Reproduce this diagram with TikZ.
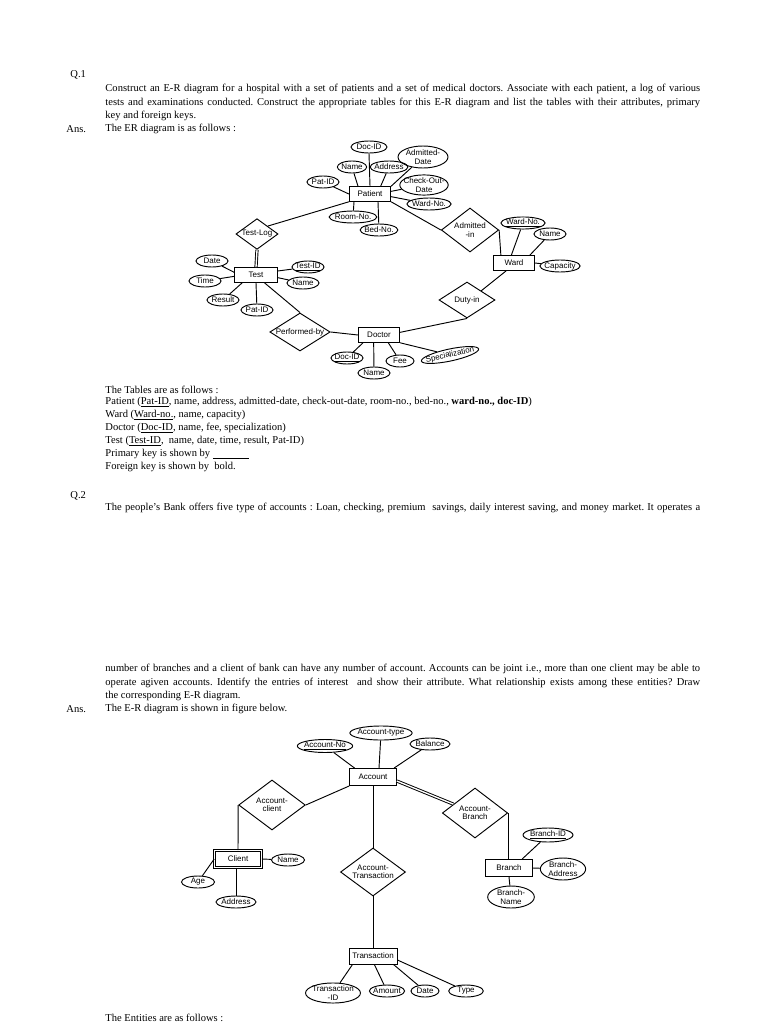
\documentclass[tikz,border=0pt]{standalone}
\usepackage{fontspec}
\setmainfont{Liberation Serif}
\newfontfamily\ersans{Liberation Sans}
\usetikzlibrary{shapes.geometric}

\newcommand{\erfont}{\ersans\fontsize{6}{6.3}\selectfont}
\newcommand{\txtfont}{\fontsize{7.9}{9}\selectfont}
\newcommand{\fullline}[1]{\makebox[446pt][s]{#1}}
\frenchspacing

\begin{document}
\begin{tikzpicture}[x=0.75pt,y=-0.75pt,line width=0.7pt,
	ent/.style={draw,rectangle,font=\erfont,inner sep=0pt,minimum width=31pt,minimum height=11pt},
	attr/.style={draw,ellipse,font=\erfont,inner xsep=-1pt,inner ysep=0pt,minimum width=24pt,minimum height=9pt,align=center},
	rel/.style={draw,diamond,aspect=1.6,font=\erfont,inner sep=0pt,align=center},
	txt/.style={anchor=west,font=\txtfont,inner sep=0pt}]
	
	\useasboundingbox (0,0) rectangle (768,1024);
	
	% question 1
	\node[txt] (q1) at (70,75) {Q.1};
	\node[txt] (q1a) at (105,89) {\fullline{Construct an E-R diagram for a hospital with a set of patients and a set of medical doctors. Associate with each patient, a log of various}};
	\node[txt] (q1b) at (105,103) {\fullline{tests and examinations conducted. Construct the appropriate tables for this E-R diagram and list the tables with their attributes, primary}};
	\node[txt] (q1c) at (105,116) {key and foreign keys.};
	\node[txt] (ans1) at (66,129) {Ans.};
	\node[txt] (ans1a) at (105,129) {The ER diagram is as follows :};
	
	% hospital diagram
	\node[ent] (patient) at (370,194) {Patient};
	\node[attr,minimum width=27pt] (pdoc) at (369,147) {Doc-ID};
	\node[attr,minimum width=22pt] (pname) at (352,167) {Name};
	\node[attr,minimum width=26pt] (paddr) at (389,167) {Address};
	\node[attr,minimum width=37.5pt,minimum height=16.5pt] (padm) at (423,157) {Admitted-\\Date};
	\node[attr] (ppat) at (323,182) {Pat-ID};
	\node[attr,minimum width=33pt,minimum height=15pt,inner xsep=-2.5pt] (pcheck) at (424,185) {Check-Out-\\Date};
	\node[attr,minimum width=29pt] (pward) at (429,204) {Ward-No.};
	\node[attr,minimum width=32pt] (proom) at (353,217) {Room-No.};
	\node[attr,minimum width=27pt] (pbed) at (379,230) {Bed-No.};
	
	\draw (pdoc.south) -- (patient.north);
	\draw ([xshift=-9pt]patient.north) -- (pname);
	\draw ([xshift=8pt]patient.north) -- (paddr);
	\draw (patient.north east) -- (padm);
	\draw (patient.west) -- (ppat);
	\draw ([yshift=2pt]patient.east) -- (pcheck);
	\draw ([yshift=-2pt]patient.east) -- (pward);
	\draw ([xshift=-12pt]patient.south) -- (proom);
	\draw ([xshift=6pt]patient.south) -- (pbed);
	
	\node[rel,minimum width=31.5pt,minimum height=23pt] (testlog) at (257,234) {Test-Log};
	\node[ent,minimum width=32pt] (test) at (256,275) {Test};
	\node[attr] (tdate) at (212,261) {Date};
	\node[attr] (ttime) at (205,281) {Time};
	\node[attr] (tresult) at (223,300) {Result};
	\node[attr] (tpat) at (257,310) {Pat-ID};
	\node[attr] (ttid) at (308,267) {\underline{Test-ID}};
	\node[attr] (tname) at (303,283) {Name};
	
	\draw (patient.south west) -- (testlog.north east);
	\draw[double,double distance=1pt] (testlog.south) -- (test.north);
	\draw ([yshift=2pt]test.west) -- (tdate);
	\draw ([yshift=-1pt]test.west) -- (ttime);
	\draw ([xshift=6pt]test.south west) -- (tresult);
	\draw (test.south) -- (tpat);
	\draw ([yshift=3pt]test.east) -- (ttid);
	\draw ([yshift=-2pt]test.east) -- (tname);
	
	\node[rel,minimum width=45pt,minimum height=28.5pt] (perf) at (300,332) {Performed-by};
	\node[ent] (doctor) at (379,335) {Doctor};
	\node[attr] (ddoc) at (347,358) {\underline{Doc-ID}};
	\node[attr] (dname) at (374,373) {Name};
	\node[attr,minimum width=21pt] (dfee) at (400,361) {Fee};
	\node[attr,minimum width=39pt,inner xsep=-3pt,rotate=12] (dspec) at (450,355) {Specialization};
	
	\draw ([xshift=-10pt]test.south east) -- (perf.north);
	\draw (perf.east) -- (doctor.west);
	\draw ([xshift=-12pt]doctor.south) -- (ddoc);
	\draw ([xshift=-4pt]doctor.south) -- (dname);
	\draw ([xshift=7pt]doctor.south) -- (dfee);
	\draw (doctor.south east) -- (dspec);
	
	\node[rel,minimum width=42pt,minimum height=27pt] (duty) at (467,300) {Duty-in};
	\node[rel,minimum width=43pt,minimum height=33pt] (admin) at (470,230) {Admitted\\-in};
	\node[ent] (ward) at (514,263) {Ward};
	\node[attr,minimum width=29pt] (wno) at (523,223) {\underline{Ward-No.}};
	\node[attr] (wname) at (550,234) {Name};
	\node[attr,minimum width=29pt] (wcap) at (560,266) {Capacity};
	
	\draw ([yshift=2pt]doctor.east) -- (duty.south);
	\draw (duty.north east) -- ([xshift=10pt]ward.south west);
	\draw (patient.south east) -- (admin.west);
	\draw (admin.east) -- ([xshift=6pt]ward.north west);
	\draw ([xshift=-2pt]ward.north) -- (wno);
	\draw ([xshift=-4pt]ward.north east) -- (wname);
	\draw (ward.east) -- (wcap);
	
	% tables
	\node[txt] (tab0) at (105,390) {The Tables are as follows :};
	\node[txt] (tab1) at (105,402) {Patient (\underline{Pat-ID}, name, address, admitted-date, check-out-date, room-no., bed-no., \textbf{ward-no., doc-ID})};
	\node[txt] (tab2) at (105,415) {Ward (\underline{Ward-no.}, name, capacity)};
	\node[txt] (tab3) at (105,428) {Doctor (\underline{Doc-ID}, name, fee, specialization)};
	\node[txt] (tab4) at (105,441) {Test (\underline{Test-ID}, \ name, date, time, result, Pat-ID)};
	\node[txt] (tab5) at (105,454) {Primary key is shown by \underline{\hspace{27pt}}};
	\node[txt] (tab6) at (105,467) {Foreign key is shown by \ bold.};
	
	% question 2
	\node[txt] (q2) at (70,496) {Q.2};
	\node[txt] (q2a) at (105,508) {\fullline{The people's Bank offers five type of accounts : Loan, checking, premium \ savings, daily interest saving, and money market. It operates a}};
	\node[txt] (q2b) at (105,669) {\fullline{number of branches and a client of bank can have any number of account. Accounts can be joint i.e., more than one client may be able to}};
	\node[txt] (q2c) at (105,683) {\fullline{operate agiven accounts. Identify the entries of interest \ and show their attribute. What relationship exists among these entities? Draw}};
	\node[txt] (q2d) at (105,696) {the corresponding E-R diagram.};
	\node[txt] (ans2) at (66,709) {Ans.};
	\node[txt] (ans2a) at (105,709) {The E-R diagram is shown in figure below.};
	
	% bank diagram
	\node[ent,minimum width=35pt,minimum height=12.75pt] (account) at (373,777) {Account};
	\node[attr,minimum width=39pt,minimum height=9.75pt] (accno) at (325,746) {\underline{Account-No}};
	\node[attr,minimum width=40.5pt,minimum height=10.5pt] (acctype) at (381,733) {Account-type};
	\node[attr,minimum width=30pt] (accbal) at (430,744) {Balance};
	
	\draw ([xshift=4pt]account.north west) -- (accno);
	\draw ([xshift=4.5pt]account.north) -- (acctype);
	\draw ([xshift=-2pt]account.north east) -- (accbal);
	
	\node[rel,minimum width=50pt,minimum height=37.5pt] (accclient) at (272,805) {Account-\\client};
	\node[ent,minimum width=35pt,minimum height=12.75pt,double,double distance=1pt] (client) at (238,859) {Client};
	\node[attr,minimum width=24.75pt] (cname) at (288,860) {Name};
	\node[attr,minimum width=24.75pt] (cage) at (198,882) {Age};
	\node[attr,minimum width=30pt] (caddr) at (236,902) {Address};
	
	\draw (accclient.east) -- (account.south west);
	\draw (accclient.west) -- (client.north);
	\draw (client.east) -- (cname);
	\draw (client.west) -- (cage);
	\draw ([xshift=-1.5pt]client.south) -- (caddr);
	
	\node[rel,minimum width=48.75pt,minimum height=36pt] (acctrans) at (373,872) {Account-\\Transaction};
	\node[ent,minimum width=36pt,minimum height=12pt] (trans) at (373,956) {Transaction};
	\node[attr,minimum width=37.5pt,minimum height=15pt] (tid) at (333,993) {Transaction\\-ID};
	\node[attr,minimum width=25.5pt] (tamt) at (387,991) {Amount};
	\node[attr,minimum width=21pt] (tdt) at (425,991) {Date};
	\node[attr,minimum width=26pt] (ttype) at (466,991) {Type};
	
	\draw (account.south) -- (acctrans.north);
	\draw (acctrans.south) -- (trans.north);
	\draw ([xshift=3pt]trans.south west) -- (tid);
	\draw ([xshift=1pt]trans.south) -- (tamt);
	\draw ([xshift=-3pt]trans.south east) -- (tdt);
	\draw ([yshift=-3pt]trans.east) -- (ttype);
	
	\node[rel,minimum width=49pt,minimum height=37.5pt] (accbranch) at (475,813) {Account-\\Branch};
	\node[ent,minimum width=35pt,minimum height=12.75pt] (branch) at (509,868) {Branch};
	\node[attr,minimum width=37.5pt,minimum height=10.5pt] (bid) at (548,835) {\underline{Branch-ID}};
	\node[attr,minimum width=34pt,minimum height=16.5pt] (baddr) at (563,869) {Branch-\\Address};
	\node[attr,minimum width=35pt,minimum height=16.5pt] (bname) at (511,897) {Branch-\\Name};
	
	\draw[double,double distance=1pt] ([yshift=-3pt]account.east) -- (accbranch);
	\draw (accbranch.east) -- (accbranch.east |- branch.north);
	\draw ([xshift=-8pt]branch.north east) -- (bid);
	\draw (branch.east) -- (baddr);
	\draw (branch.south) -- (bname);
	
	\node[txt] (ent0) at (105,1018) {The Entities are as follows :};
	
\end{tikzpicture}
\end{document}
